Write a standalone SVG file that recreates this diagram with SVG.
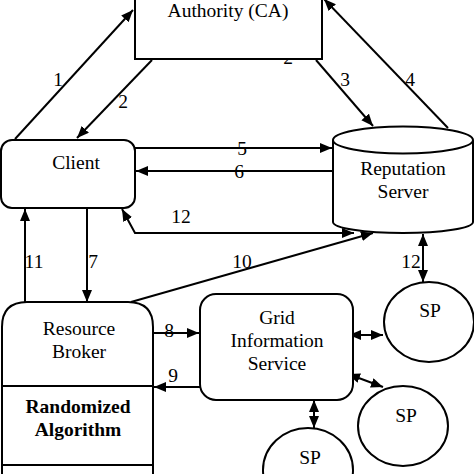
<svg xmlns="http://www.w3.org/2000/svg" width="474" height="474" viewBox="0 0 474 474">
<style>
text{font-family:"Liberation Serif","Times New Roman",serif;font-size:19.5px;fill:#000;text-anchor:middle}
.b{font-weight:bold}
.n{fill:#fff;stroke:#000;stroke-width:2}
.c{fill:none;stroke:#000;stroke-width:2}
</style>
<defs>
<marker id="ah" markerUnits="userSpaceOnUse" markerWidth="13" markerHeight="11" refX="12" refY="5" orient="auto-start-reverse" viewBox="0 0 13 11">
<path d="M0,0 L12,5 L0,10 z" fill="#000"/>
</marker>
</defs>
<rect width="474" height="474" fill="#fff"/>
<text x="288" y="64">2</text>
<g id="connectors">
<line class="c" x1="15" y1="139" x2="133" y2="10" marker-end="url(#ah)"/>
<line class="c" x1="152" y1="60" x2="77" y2="138" marker-end="url(#ah)"/>
<line class="c" x1="316" y1="60" x2="373" y2="126" marker-end="url(#ah)"/>
<line class="c" x1="448" y1="128" x2="324" y2="-1" marker-end="url(#ah)"/>
<line class="c" x1="135" y1="148" x2="332" y2="148" marker-end="url(#ah)"/>
<line class="c" x1="333" y1="171" x2="136" y2="171" marker-end="url(#ah)"/>
<polyline class="c" points="122,209 135,233 354,233" marker-start="url(#ah)" marker-end="url(#ah)"/>
<line class="c" x1="131" y1="302" x2="373" y2="233" marker-end="url(#ah)"/>
<line class="c" x1="25" y1="302" x2="25" y2="209" marker-end="url(#ah)"/>
<line class="c" x1="87" y1="208" x2="87" y2="302" marker-end="url(#ah)"/>
<line class="c" x1="423" y1="234" x2="423" y2="282" marker-start="url(#ah)" marker-end="url(#ah)"/>
<line class="c" x1="153" y1="333" x2="199" y2="333" marker-end="url(#ah)"/>
<line class="c" x1="200" y1="387" x2="154" y2="387" marker-end="url(#ah)"/>
<line class="c" x1="349" y1="335" x2="383" y2="335" marker-start="url(#ah)" marker-end="url(#ah)"/>
<line class="c" x1="348" y1="374" x2="383" y2="387" marker-start="url(#ah)" marker-end="url(#ah)"/>
<line class="c" x1="314" y1="400" x2="314" y2="428" marker-start="url(#ah)" marker-end="url(#ah)"/>
<text x="58" y="86">1</text>
<text x="123" y="108">2</text>
<text x="345" y="86">3</text>
<text x="410" y="86">4</text>
<text x="242" y="155">5</text>
<text x="239" y="178">6</text>
<text x="181" y="223">12</text>
<text x="34" y="268">11</text>
<text x="93" y="268">7</text>
<text x="242" y="268">10</text>
<text x="411" y="268">12</text>
<text x="169" y="337">8</text>
<text x="173" y="382">9</text>
</g>
<g id="ca">
<rect class="n" x="135" y="-40" width="187" height="99"/>
<text x="228" y="17">Authority (CA)</text>
</g>
<g id="client">
<rect class="n" x="1" y="140" width="134" height="68" rx="11"/>
<text x="76" y="169">Client</text>
</g>
<g id="reputation-server">
<path class="n" d="M333,140 V222 A70,11 0 0 0 473,222 V140"/>
<ellipse class="n" cx="403" cy="140" rx="70" ry="13.5"/>
<text x="403" y="175">Reputation</text>
<text x="403" y="198">Server</text>
</g>
<g id="resource-broker">
<path class="n" d="M2,480 V327 Q2,302 27,302 H128 Q153,302 153,327 V480"/>
<rect class="n" x="2" y="386" width="151" height="79"/>
<text x="79" y="335">Resource</text>
<text x="79" y="358">Broker</text>
<text class="b" x="78" y="413">Randomized</text>
<text class="b" x="78" y="436">Algorithm</text>
</g>
<g id="gis">
<rect class="n" x="200" y="294" width="153" height="106" rx="16"/>
<text x="277" y="324">Grid</text>
<text x="277" y="347">Information</text>
<text x="277" y="370">Service</text>
</g>
<g id="sp1">
<ellipse class="n" cx="429" cy="322" rx="45" ry="40"/>
<text x="430" y="317">SP</text>
</g>
<g id="sp2">
<ellipse class="n" cx="403" cy="426" rx="45" ry="40"/>
<text x="406" y="422">SP</text>
</g>
<g id="sp3">
<ellipse class="n" cx="308" cy="470" rx="45" ry="42"/>
<text x="310" y="464">SP</text>
</g>
</svg>
